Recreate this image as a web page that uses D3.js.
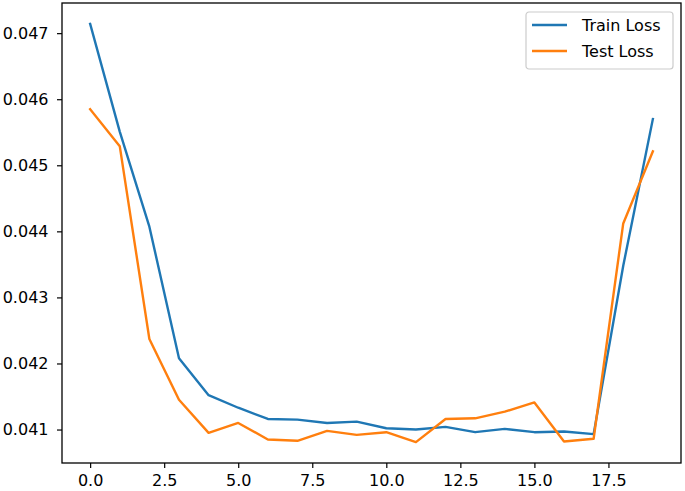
<!DOCTYPE html>
<html>
<head>
<meta charset="utf-8">
<script src="https://cdn.jsdelivr.net/npm/d3@7"></script>
<style>
  body { margin: 0; background: #fff; }
</style>
</head>
<body>
<script>
let epochs = d3.range(20);
let trainLoss = [0.04714, 0.04551, 0.04407, 0.04208, 0.04152, 0.04133, 0.04116, 0.04115, 0.04110, 0.04112,
  0.04102, 0.04100, 0.04104, 0.04096, 0.04101, 0.04096, 0.04097, 0.04093, 0.04348, 0.04570];
let testLoss = [0.04585, 0.04529, 0.04237, 0.04145, 0.04095, 0.04110, 0.04085, 0.04083, 0.04098, 0.04092,
  0.04096, 0.04081, 0.04116, 0.04117, 0.04127, 0.04141, 0.04082, 0.04086, 0.04412, 0.04521];
let xTicks = [0, 2.5, 5, 7.5, 10, 12.5, 15, 17.5];
let yTicks = [0.041, 0.042, 0.043, 0.044, 0.045, 0.046, 0.047];
let seriesNames = ['Train Loss', 'Test Loss'];
let colors = ['#1f77b4', '#ff7f0e'];

let width = 685;
let height = 491;
let margins = { top: 3, bottom: 28, left: 62, right: 4 };
let fontSize = 16;
let font = 'DejaVu Sans, sans-serif';

// matplotlib-style 5% padding around the data
let xExt = d3.extent(epochs);
let xPad = (xExt[1] - xExt[0]) * 0.05;
let yExt = d3.extent(trainLoss.concat(testLoss));
let yPad = (yExt[1] - yExt[0]) * 0.05;

let xScale = d3.scaleLinear([xExt[0] - xPad, xExt[1] + xPad], [margins.left, width - margins.right]);
let yScale = d3.scaleLinear([yExt[0] - yPad, yExt[1] + yPad], [height - margins.bottom, margins.top]);

let svg = d3.create('svg')
  .attr('width', width)
  .attr('height', height);

let xAxis = d3.axisBottom(xScale)
  .tickValues(xTicks)
  .tickFormat(d3.format('.1f'))
  .tickSize(5)
  .tickPadding(7)
  .tickSizeOuter(0);

let yAxis = d3.axisLeft(yScale)
  .tickValues(yTicks)
  .tickFormat(d3.format('.3f'))
  .tickSize(5)
  .tickPadding(8.5)
  .tickSizeOuter(0);

let gx = svg.append('g')
  .attr('transform', `translate(0,${height - margins.bottom})`)
  .call(xAxis);
gx.select('.domain').remove();

let gy = svg.append('g')
  .attr('transform', `translate(${margins.left},0)`)
  .call(yAxis);
gy.select('.domain').remove();

svg.selectAll('.tick text')
  .attr('font-family', font)
  .attr('font-size', fontSize)
  .attr('fill', '#000');
svg.selectAll('.tick line')
  .attr('stroke', '#000')
  .attr('stroke-width', 1.2);

let lines = [trainLoss, testLoss];
let line = d3.line()
  .x((d, i) => xScale(epochs[i]))
  .y(d => yScale(d));

svg.append('g')
  .selectAll('path')
  .data(lines)
  .join('path')
  .attr('d', line)
  .attr('fill', 'none')
  .attr('stroke', (d, i) => colors[i])
  .attr('stroke-width', 2.4)
  .attr('stroke-linejoin', 'round')
  .attr('stroke-linecap', 'square');

// axes frame
svg.append('rect')
  .attr('x', margins.left)
  .attr('y', margins.top)
  .attr('width', width - margins.left - margins.right)
  .attr('height', height - margins.top - margins.bottom)
  .attr('fill', 'none')
  .attr('stroke', '#000')
  .attr('stroke-width', 1.3);

// legend
let legend = svg.append('g')
  .attr('transform', 'translate(526,12)');

legend.append('rect')
  .attr('width', 147)
  .attr('height', 57)
  .attr('rx', 3)
  .attr('fill', '#fff')
  .attr('fill-opacity', 0.8)
  .attr('stroke', '#cccccc')
  .attr('stroke-width', 1.2);

let items = legend.selectAll('.item')
  .data(seriesNames)
  .join('g')
  .attr('transform', (d, i) => `translate(0,${13 + i * 26})`);

items.append('line')
  .attr('x1', 6)
  .attr('x2', 41)
  .attr('stroke', (d, i) => colors[i])
  .attr('stroke-width', 2.4);

items.append('text')
  .text(d => d)
  .attr('x', 56)
  .attr('dy', '0.35em')
  .attr('font-family', font)
  .attr('font-size', fontSize)
  .attr('fill', '#000');

document.body.append(svg.node());
</script>
</body>
</html>
